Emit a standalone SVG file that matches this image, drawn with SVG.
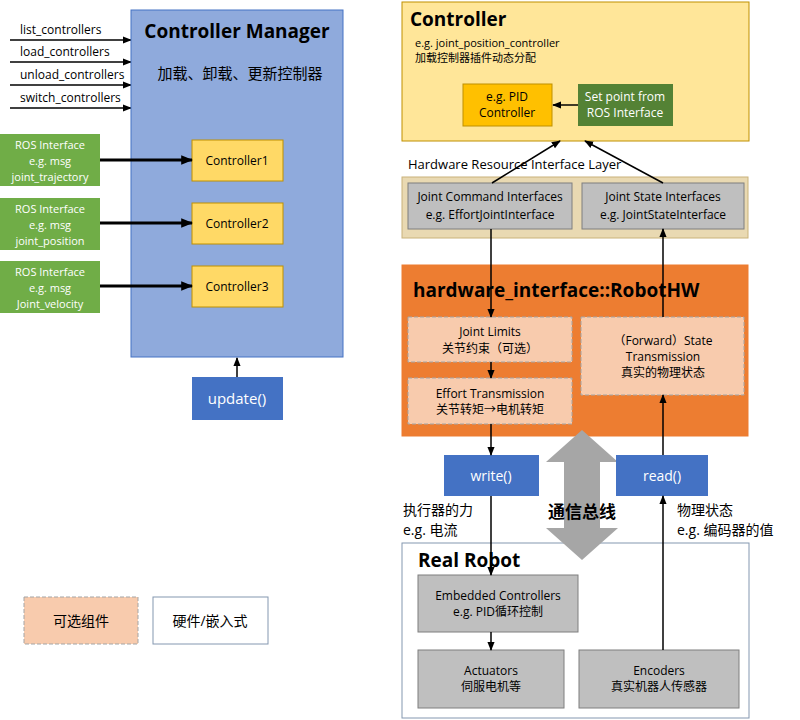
<svg xmlns="http://www.w3.org/2000/svg" width="800" height="720" viewBox="0 0 800 720">
<defs>
<marker id="ah" viewBox="0 0 10 10" refX="9" refY="5" markerWidth="6" markerHeight="6" orient="auto-start-reverse"><path d="M0,1 L10,5 L0,9 z" fill="#000"/></marker>
<marker id="ahb" viewBox="0 0 10 10" refX="9" refY="5" markerWidth="4" markerHeight="4" orient="auto"><path d="M0,1 L10,5 L0,9 z" fill="#000"/></marker>
<style>
text{font-family:"Open Sans","Noto Sans CJK SC",sans-serif;font-size:12px;fill:#000}
.t{font-weight:bold;font-size:19px}
.c{text-anchor:middle}
.w{fill:#fff}
.s{font-size:11px}
.ln{stroke:#000;stroke-width:1.5;fill:none}
.gray{fill:#bfbfbf;stroke:#7f7f7f}
.opt{fill:#f8cbad;stroke:#a5a5a5;stroke-dasharray:4 2}
.yel{fill:#ffd966;stroke:#bf9000}
.grn{fill:#70ad47}
.blu{fill:#4472c4}
</style>
</defs>
<g id="connectors">
<line class="ln" x1="10" y1="40" x2="131" y2="40" marker-end="url(#ah)"/>
<line class="ln" x1="10" y1="62" x2="131" y2="62" marker-end="url(#ah)"/>
<line class="ln" x1="10" y1="85" x2="131" y2="85" marker-end="url(#ah)"/>
<line class="ln" x1="10" y1="108" x2="131" y2="108" marker-end="url(#ah)"/>
</g>
<g id="manager"><rect x="131" y="10" width="212" height="347" fill="#8faadc" stroke="#4472c4"/>
<text class="t c" x="237" y="38">Controller Manager</text>
<text class="c" x="240" y="79" style="font-size:15px">加载、卸载、更新控制器</text></g>
<g id="cmdlabels">
<text x="20" y="34">list_controllers</text><text x="20" y="56">load_controllers</text>
<text x="20" y="79">unload_controllers</text><text x="20" y="102">switch_controllers</text></g>
<g id="ros1"><rect class="grn" x="0" y="134" width="100" height="52"/><text class="c w s" x="50" y="149">ROS Interface</text><text class="c w s" x="50" y="165">e.g. msg</text><text class="c w s" x="50" y="181">joint_trajectory</text></g>
<g id="ros2"><rect class="grn" x="0" y="198" width="100" height="52"/><text class="c w s" x="50" y="213">ROS Interface</text><text class="c w s" x="50" y="229">e.g. msg</text><text class="c w s" x="50" y="245">joint_position</text></g>
<g id="ros3"><rect class="grn" x="0" y="261" width="100" height="52"/><text class="c w s" x="50" y="276">ROS Interface</text><text class="c w s" x="50" y="292">e.g. msg</text><text class="c w s" x="50" y="308">Joint_velocity</text></g>
<g id="c1"><rect class="yel" x="192" y="140" width="91" height="41"/><text class="c" x="237" y="165">Controller1</text></g>
<g id="c2"><rect class="yel" x="192" y="203" width="91" height="41"/><text class="c" x="237" y="228">Controller2</text></g>
<g id="c3"><rect class="yel" x="192" y="266" width="91" height="41"/><text class="c" x="237" y="291">Controller3</text></g>
<g id="update"><rect class="blu" x="192" y="377" width="91" height="43"/><text class="c w" x="237" y="404" style="font-size:15px">update()</text></g>
<g id="controller"><rect x="402" y="2" width="347" height="139" fill="#ffe699" stroke="#bf9000"/>
<text class="t" x="410" y="26">Controller</text>
<text x="415" y="47" style="font-size:11px">e.g. joint_position_controller</text>
<text x="415" y="62" style="font-size:11px">加载控制器插件动态分配</text></g>
<g id="pid"><rect x="463" y="84" width="89" height="42" fill="#ffc000" stroke="#bf9000"/><text class="c" x="507" y="101">e.g. PID</text><text class="c" x="507" y="117">Controller</text></g>
<g id="setpoint"><rect x="578" y="84" width="95" height="42" fill="#548235"/><text class="c w" x="625" y="101">Set point from</text><text class="c w" x="625" y="117">ROS Interface</text></g>
<text x="408" y="169" style="font-size:13px">Hardware Resource Interface Layer</text>
<g id="hwlayer"><rect x="402" y="177" width="346" height="61" fill="#e9d9b2" stroke="#c9b27a"/></g>
<g id="jci"><rect class="gray" x="408" y="183" width="164" height="46"/><text class="c" x="490" y="201">Joint Command Interfaces</text><text class="c" x="490" y="219">e.g. EffortJointInterface</text></g>
<g id="jsi"><rect class="gray" x="582" y="183" width="162" height="46"/><text class="c" x="663" y="201">Joint State Interfaces</text><text class="c" x="663" y="219">e.g. JointStateInterface</text></g>
<g id="robothw"><rect x="402" y="265" width="346" height="171" fill="#ed7d31" stroke="#ed7d31"/><text class="t" x="413" y="297">hardware_interface::RobotHW</text></g>
<g id="jl"><rect class="opt" x="408" y="317" width="164" height="45"/><text class="c" x="490" y="336">Joint Limits</text><text class="c" x="490" y="353">关节约束（可选）</text></g>
<g id="et"><rect class="opt" x="408" y="378" width="164" height="46"/><text class="c" x="490" y="398">Effort Transmission</text><text class="c" x="490" y="414">关节转矩→电机转矩</text></g>
<g id="fst"><rect class="opt" x="581" y="317" width="163" height="78"/><text class="c" x="663" y="345">（Forward）State</text><text class="c" x="663" y="361">Transmission</text><text class="c" x="663" y="377">真实的物理状态</text></g>
<g id="realrobot"><rect x="402" y="543" width="347" height="175" fill="#fff" stroke="#8497b0"/><text class="t" x="418" y="567">Real Robot</text></g>
<g id="bus"><path d="M582,430 L618,462 L600,462 L600,528 L618,528 L582,560 L546,528 L564,528 L564,462 L546,462 Z" fill="#a6a6a6"/>
<text class="c" x="582" y="518" style="font-size:17px;font-weight:bold">通信总线</text></g>
<g id="write"><rect class="blu" x="444" y="455" width="95" height="41"/><text class="c w" x="491" y="481" style="font-size:14px">write()</text></g>
<g id="read"><rect class="blu" x="616" y="455" width="92" height="41"/><text class="c w" x="662" y="481" style="font-size:14px">read()</text></g>
<g id="lbls"><text x="403" y="515" style="font-size:14px">执行器的力</text><text x="403" y="535" style="font-size:14px">e.g. 电流</text>
<text x="677" y="515" style="font-size:14px">物理状态</text><text x="677" y="535" style="font-size:14px">e.g. 编码器的值</text></g>
<g id="emb"><rect class="gray" x="418" y="575" width="160" height="57"/><text class="c" x="498" y="600">Embedded Controllers</text><text class="c" x="498" y="616">e.g. PID循环控制</text></g>
<g id="act"><rect class="gray" x="418" y="650" width="146" height="58"/><text class="c" x="491" y="675">Actuators</text><text class="c" x="491" y="691">伺服电机等</text></g>
<g id="enc"><rect class="gray" x="579" y="650" width="160" height="58"/><text class="c" x="659" y="675">Encoders</text><text class="c" x="659" y="691">真实机器人传感器</text></g>
<g id="legend1"><rect class="opt" x="24" y="597" width="114" height="47"/><text class="c" x="81" y="626" style="font-size:14px">可选组件</text></g>
<g id="legend2"><rect x="153" y="597" width="115" height="47" fill="#fff" stroke="#8497b0"/><text class="c" x="210" y="626" style="font-size:14px">硬件/嵌入式</text></g>
<g id="connectors2">
<line x1="100" y1="160" x2="192" y2="160" stroke="#000" stroke-width="3" marker-end="url(#ahb)"/>
<line x1="100" y1="223" x2="192" y2="223" stroke="#000" stroke-width="3" marker-end="url(#ahb)"/>
<line x1="100" y1="286" x2="192" y2="286" stroke="#000" stroke-width="3" marker-end="url(#ahb)"/>
<line class="ln" x1="237" y1="377" x2="237" y2="358" marker-end="url(#ah)"/>
<line class="ln" x1="578" y1="105" x2="553" y2="105" marker-end="url(#ah)"/>
<line class="ln" x1="560" y1="141" x2="492" y2="183" marker-start="url(#ah)"/>
<line class="ln" x1="663" y1="183" x2="585" y2="141" marker-end="url(#ah)"/>
<line class="ln" x1="491" y1="229" x2="491" y2="317" marker-end="url(#ah)"/>
<line class="ln" x1="491" y1="362" x2="491" y2="378" marker-end="url(#ah)"/>
<line class="ln" x1="491" y1="424" x2="491" y2="455" marker-end="url(#ah)"/>
<line class="ln" x1="491" y1="496" x2="491" y2="575" marker-end="url(#ah)"/>
<line class="ln" x1="491" y1="632" x2="491" y2="650" marker-end="url(#ah)"/>
<line class="ln" x1="663" y1="650" x2="663" y2="496" marker-end="url(#ah)"/>
<line class="ln" x1="663" y1="455" x2="663" y2="395" marker-end="url(#ah)"/>
<line class="ln" x1="663" y1="317" x2="663" y2="229" marker-end="url(#ah)"/>
</g>
</svg>
